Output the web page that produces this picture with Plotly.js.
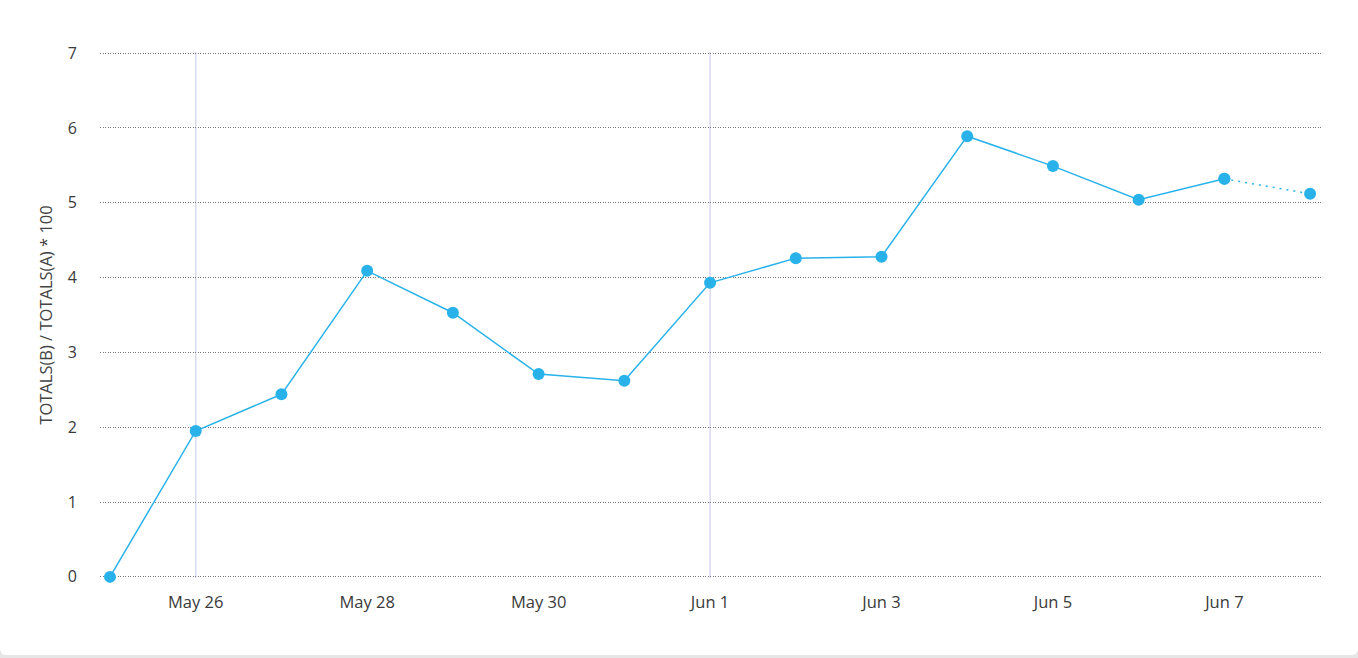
<!DOCTYPE html>
<html>
<head>
<meta charset="utf-8">
<script src="https://cdn.plot.ly/plotly-3.0.1.min.js"></script>
<style>
  html, body { margin: 0; padding: 0; background: #e6e6e6; }
  #card { width: 1358px; height: 655px; background: #fff; border-radius: 0 0 6px 6px; overflow: hidden; }
  #chart { width: 1358px; height: 658px; }
</style>
</head>
<body>
<div id="card"><div id="chart"></div></div>
<script>
const dates = ["2019-05-25","2019-05-26","2019-05-27","2019-05-28","2019-05-29","2019-05-30","2019-05-31",
               "2019-06-01","2019-06-02","2019-06-03","2019-06-04","2019-06-05","2019-06-06","2019-06-07","2019-06-08"];
const values = [0, 1.95, 2.44, 4.09, 3.53, 2.71, 2.62, 3.93, 4.26, 4.28, 5.89, 5.49, 5.04, 5.32, 5.12];
const tickDates = ["2019-05-26","2019-05-28","2019-05-30","2019-06-01","2019-06-03","2019-06-05","2019-06-07"];
const tickLabels = ["May 26","May 28","May 30","Jun 1","Jun 3","Jun 5","Jun 7"];
const markerDates = ["2019-05-26","2019-06-01"];
const yTitle = "TOTALS(B) / TOTALS(A) * 100";

const color = "#29b2ea";
const n = dates.length;

const solid = {
  x: dates.slice(0, n - 1), y: values.slice(0, n - 1),
  type: "scatter", mode: "lines+markers",
  line: { color: color, width: 1.5 },
  marker: { color: color, size: 12 },
  hoverinfo: "x+y", showlegend: false, cliponaxis: false
};
const dotted = {
  x: dates.slice(n - 2), y: values.slice(n - 2),
  type: "scatter", mode: "lines+markers",
  line: { color: color, width: 1.5, dash: "2px,5px" },
  marker: { color: color, size: 12 },
  hoverinfo: "x+y", showlegend: false, cliponaxis: false
};

const shapes = markerDates.map(d => ({
  type: "line", xref: "x", yref: "paper", x0: d, x1: d, y0: 0, y1: 1,
  line: { color: "#d9d9ef", width: 1.5 }, layer: "below"
}));

const layout = {
  width: 1358, height: 658,
  margin: { l: 100, r: 36, t: 52, b: 80 },
  paper_bgcolor: "rgba(0,0,0,0)", plot_bgcolor: "#fff",
  font: { family: "'Open Sans', sans-serif", color: "#333", size: 16 },
  showlegend: false,
  shapes: shapes,
  xaxis: {
    type: "date",
    range: ["2019-05-24 21:12", "2019-06-08 03:20"],
    tickmode: "array", tickvals: tickDates, ticktext: tickLabels,
    showgrid: false, zeroline: false, showline: false,
    ticks: "outside", ticklen: 9, tickcolor: "rgba(0,0,0,0)",
    tickfont: { size: 16.5, color: "#3a3a3a" }
  },
  yaxis: {
    range: [-0.015, 7.015], tickvals: [0,1,2,3,4,5,6,7],
    showgrid: true, gridcolor: "#777", griddash: "1px,1.5px", gridwidth: 1,
    zeroline: false, showline: false,
    ticks: "outside", ticklen: 19, tickcolor: "rgba(0,0,0,0)",
    tickfont: { size: 16, color: "#3a3a3a" },
    title: { text: yTitle, font: { size: 16.5, color: "#444" }, standoff: 10 }
  }
};

Plotly.newPlot("chart", [solid, dotted], layout, { displayModeBar: false });
</script>
</body>
</html>
